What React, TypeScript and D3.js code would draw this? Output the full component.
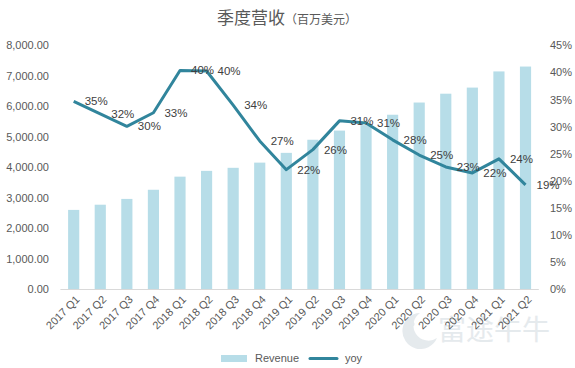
import React from 'react';
import * as d3 from 'd3';

const quarters = [
  '2017 Q1', '2017 Q2', '2017 Q3', '2017 Q4',
  '2018 Q1', '2018 Q2', '2018 Q3', '2018 Q4',
  '2019 Q1', '2019 Q2', '2019 Q3', '2019 Q4',
  '2020 Q1', '2020 Q2', '2020 Q3', '2020 Q4',
  '2021 Q1', '2021 Q2',
];
const revenue = [
  2610, 2780, 2970, 3270, 3700, 3890, 3990, 4160, 4480,
  4910, 5210, 5390, 5730, 6130, 6420, 6620, 7150, 7310,
];
const yoy = [
  0.347, 0.324, 0.301, 0.326, 0.404, 0.403, 0.340, 0.274, 0.221,
  0.258, 0.311, 0.307, 0.276, 0.248, 0.226, 0.215, 0.241, 0.193,
];
const leftTicks = [0, 1000, 2000, 3000, 4000, 5000, 6000, 7000, 8000];
const rightTicks = [0, 0.05, 0.1, 0.15, 0.2, 0.25, 0.3, 0.35, 0.4, 0.45];

const barColor = '#b7dde8';
const lineColor = '#31859c';
const textColor = '#595959';
const font = '"Liberation Sans", Arial, sans-serif';

export default function App() {
  const left = 60.4, right = 538.8, top = 45.5, bottom = 289.5;

  const x = d3.scaleBand<string>()
    .domain(quarters)
    .range([left, right])
    .paddingInner(0.58)
    .paddingOuter(0.29);
  const cx = (q: string) => (x(q) as number) + x.bandwidth() / 2;

  const yL = d3.scaleLinear().domain([0, 8000]).range([bottom, top]);
  const yR = d3.scaleLinear().domain([0, 0.45]).range([bottom, top]);

  const line = d3.line<number>()
    .x((_, i) => cx(quarters[i]))
    .y((d) => yR(d));

  const fmtL = d3.format(',.2f');
  const fmtR = d3.format('.0%');

  return (
    <svg width={575} height={368} style={{ position: 'absolute', left: 0, top: 0, background: '#fff' }}>
      {/* watermark */}
      <g opacity={0.9}>
        <path d="M 420 313 A 18 18 0 1 0 437 338 A 14 14 0 0 1 420 313 Z" fill="#e3e8ec" />
        <circle cx={412} cy={324} r={2.5} fill="#e3e8ec" />
        <text x={438} y={340} fontSize={28} fill="#e3e8ec" fontFamily='"Noto Sans CJK SC", sans-serif'>富途牛牛</text>
      </g>

      <text x={287} y={24} textAnchor="middle" fill={textColor} fontFamily='"Noto Sans CJK SC", sans-serif'>
        <tspan fontSize={17}>季度营收</tspan>
        <tspan fontSize={12}>（百万美元）</tspan>
      </text>

      {leftTicks.map((t) => (
        <text key={t} x={49} y={yL(t)} dy="0.35em" textAnchor="end" fontSize={11} fill={textColor} fontFamily={font}>
          {fmtL(t)}
        </text>
      ))}
      {rightTicks.map((t) => (
        <text key={t} x={550} y={yR(t)} dy="0.35em" textAnchor="start" fontSize={11} fill={textColor} fontFamily={font}>
          {fmtR(t)}
        </text>
      ))}

      {revenue.map((v, i) => (
        <rect key={quarters[i]} x={x(quarters[i])} y={yL(v)} width={x.bandwidth()} height={bottom - yL(v)} fill={barColor} />
      ))}

      <line x1={left} x2={right} y1={bottom} y2={bottom} stroke="#d9d9d9" strokeWidth={1} />

      {quarters.map((q) => (
        <text key={q} transform={`translate(${cx(q) + 4},${bottom + 8}) rotate(-45)`} dy="0.35em" textAnchor="end" fontSize={11} fill={textColor} fontFamily={font}>
          {q}
        </text>
      ))}

      <path d={line(yoy) || ''} fill="none" stroke={lineColor} strokeWidth={3} strokeLinejoin="round" />

      {yoy.map((v, i) => (
        <text key={i} x={cx(quarters[i]) + 11} y={yR(v)} dy="0.35em" fontSize={11.5} fill="#404040" fontFamily={font}>
          {fmtR(v)}
        </text>
      ))}

      <rect x={221} y={355} width={26} height={7} fill={barColor} />
      <text x={255} y={358.5} dy="0.35em" fontSize={11} fill={textColor} fontFamily={font}>Revenue</text>
      <line x1={310} x2={337} y1={358.5} y2={358.5} stroke={lineColor} strokeWidth={3} strokeLinecap="round" />
      <text x={345} y={358.5} dy="0.35em" fontSize={11} fill={textColor} fontFamily={font}>yoy</text>
    </svg>
  );
}
